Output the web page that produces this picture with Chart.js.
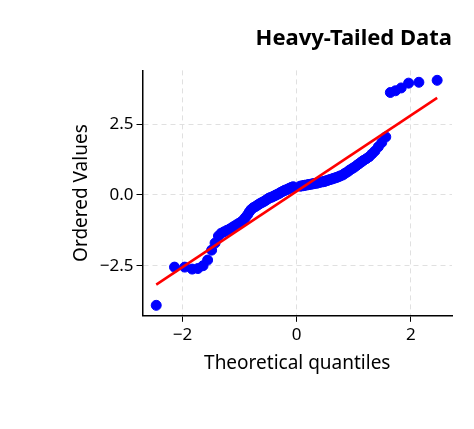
<!DOCTYPE html>
<html><head><meta charset="utf-8">
<script src="https://cdn.jsdelivr.net/npm/chart.js@4"></script>
<style>html,body{margin:0;padding:0;background:#fff}#w{width:474px;height:429px}</style>
</head><body><div id="w"><canvas id="c"></canvas></div>
<script>
const theoretical = [-2.46,-2.14,-1.96,-1.83,-1.73,-1.64,-1.56,-1.49,-1.43,-1.37,-1.32,-1.27,-1.22,-1.17,-1.13,-1.09,-1.05,-1.01,-0.97,-0.93,-0.90,-0.86,-0.83,-0.80,-0.76,-0.73,-0.70,-0.67,-0.64,-0.61,-0.58,-0.55,-0.52,-0.49,-0.47,-0.44,-0.41,-0.38,-0.36,-0.33,-0.30,-0.28,-0.25,-0.22,-0.20,-0.17,-0.14,-0.12,-0.09,-0.06,
0.06,0.09,0.12,0.14,0.17,0.20,0.22,0.25,0.28,0.30,0.33,0.36,0.38,0.41,0.44,0.47,0.49,0.52,0.55,0.58,0.61,0.64,0.67,0.70,0.73,0.76,0.80,0.83,0.86,0.90,0.93,0.97,1.01,1.05,1.09,1.13,1.17,1.22,1.27,1.32,1.37,1.43,1.49,1.56,1.64,1.73,1.83,1.96,2.14,2.46];
const ordered = [-3.9,-2.55,-2.55,-2.62,-2.6,-2.5,-2.3,-1.95,-1.7,-1.45,-1.35,-1.3,-1.25,-1.2,-1.15,-1.1,-1.05,-1.0,-0.95,-0.88,-0.8,-0.7,-0.6,-0.52,-0.45,-0.42,-0.38,-0.34,-0.3,-0.27,-0.24,-0.2,-0.16,-0.12,-0.1,-0.08,-0.05,-0.02,0.0,0.03,0.06,0.09,0.12,0.15,0.17,0.19,0.22,0.24,0.27,0.29,
0.31,0.32,0.33,0.34,0.35,0.36,0.37,0.38,0.39,0.4,0.41,0.42,0.43,0.45,0.46,0.47,0.48,0.5,0.52,0.54,0.56,0.58,0.6,0.62,0.64,0.67,0.7,0.74,0.78,0.83,0.88,0.93,0.98,1.04,1.1,1.16,1.22,1.28,1.35,1.45,1.55,1.7,1.85,2.05,3.62,3.68,3.78,3.95,3.98,4.05];
const fitX = [-2.46, 2.46];
const fitY = [-3.17, 3.43];
const xTicks = [-2, 0, 2];
const yTicks = [-2.5, 0.0, 2.5];

const F = "'Noto Sans', sans-serif";
new Chart(document.getElementById('c'), {
  data: { datasets: [
    { type:'scatter', data: theoretical.map((x,i)=>({x, y: ordered[i]})), backgroundColor:'#0000ff', borderColor:'#0000ff', pointRadius:5, order:2 },
    { type:'line', data: fitX.map((x,i)=>({x, y: fitY[i]})), borderColor:'#ff0000', borderWidth:2.5, pointRadius:0, order:1 }
  ]},
  options: {
    responsive:true, maintainAspectRatio:false, animation:false,
    layout:{padding:{left:66,right:22,top:18,bottom:50}},
    plugins:{ legend:{display:false}, tooltip:{enabled:false},
      title:{display:true, align:'end', text:'Heavy-Tailed Data', color:'#000', font:{family:F,size:22,weight:'bold'}, padding:{top:8,bottom:18}} },
    scales:{
      x:{ type:'linear', min:-2.7, max:2.72,
        afterBuildTicks:a=>{a.ticks=xTicks.map(v=>({value:v}));},
        grid:{color:'#e0e0e0', tickColor:'#000', tickLength:6},
        border:{display:true,color:'#000',width:1.5, dash:[5,4]},
        ticks:{color:'#000', font:{family:F,size:17}, callback:v=>(v<0?'\u2212'+Math.abs(v):String(v))},
        title:{display:true, text:'Theoretical quantiles', color:'#000', font:{family:F,size:19}} },
      y:{ type:'linear', min:-4.27, max:4.4,
        afterBuildTicks:a=>{a.ticks=yTicks.map(v=>({value:v}));},
        grid:{color:'#e0e0e0', tickColor:'#000', tickLength:6},
        border:{display:true,color:'#000',width:1.5, dash:[5,4]},
        ticks:{color:'#000', font:{family:F,size:17}, callback:v=>(v===0?'0.0':v<0?'\u22122.5':'2.5')},
        title:{display:true, text:'Ordered Values', color:'#000', font:{family:F,size:19}} }
    }
  }
});
</script></body></html>
